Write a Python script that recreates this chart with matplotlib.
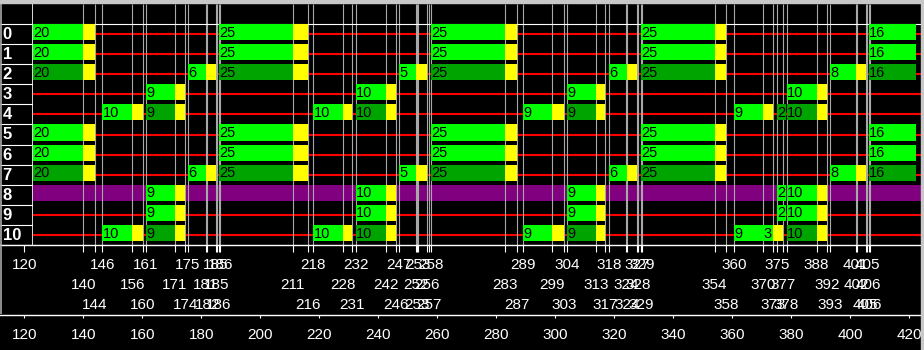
import matplotlib.pyplot as plt
from matplotlib.patches import Rectangle

plt.rcParams['font.family'] = ['Liberation Sans', 'DejaVu Sans']

W, H = 924, 350
PX_PER_UNIT = 2.95
T_AT_PX0 = 111.76   # time value at the left edge of the figure

# schedule: (start, work, setup, dark)
jobs_wide = [(120, 20, 4, False), (186, 25, 5, False), (258, 25, 4, False),
             (329, 25, 4, False), (406.2, 16, 0, False)]
jobs_mixed = [(120, 20, 4, True), (175.5, 6, 3.5, False), (186, 25, 5, True),
              (247, 5.9, 3.5, False), (258, 25, 4, True), (318.3, 6, 3.3, False),
              (329, 25, 4, True), (393.1, 8.7, 3.4, False), (406.2, 16, 0, True)]
jobs_row3 = [(161.2, 9.8, 3.6, False), (232.3, 10.2, 3.5, False),
             (304, 9.7, 3.3, False), (378.4, 10.2, 3.4, False)]
jobs_row4 = [(146.5, 10.1, 3.5, False), (161.2, 9.8, 3.6, True),
             (218, 10, 3.2, False), (232.3, 10.2, 3.5, True),
             (289.2, 9.8, 4.0, False), (304, 9.7, 3.3, True),
             (360.6, 9.9, 3.4, False), (375.3, 2.9, 0, True), (378.4, 10.2, 3.4, True)]
jobs_row8 = [(161.2, 9.8, 3.6, False), (232.3, 10.2, 3.5, False),
             (304, 9.7, 3.3, False), (375.3, 2.9, 0, False), (378.4, 10.2, 3.4, False)]
jobs_row10 = [(146.5, 10.1, 3.5, False), (161.2, 9.8, 3.6, True),
              (218, 10, 3.2, False), (232.3, 10.2, 3.5, True),
              (289.2, 9.8, 4.0, False), (304, 9.7, 3.3, True),
              (360.6, 9.9, 0, False), (370.5, 3.4, 3.4, False), (378.4, 10.2, 3.4, True)]

row_names = [str(i) for i in range(11)]
row_jobs = [jobs_wide, jobs_wide, jobs_mixed, jobs_row3, jobs_row4, jobs_wide,
            jobs_wide, jobs_mixed, jobs_row8, jobs_row8, jobs_row10]
blocked_rows = [8]

# event times (vertical markers), labelled as integers
events = [120, 140, 144, 146.5, 156.6, 160.1, 161.2, 171, 174.6, 175.5, 181.5, 182,
          185, 185.3, 186, 186.4, 211, 216, 218, 228, 231.2, 232.3, 242.5, 246, 247,
          252.9, 253, 253.5, 256.4, 257.2, 258, 283, 287, 289.2, 299, 303, 304, 313.7,
          317, 318.3, 324, 324.3, 327.6, 328.2, 329, 329.4, 354, 358, 360.6, 370.5,
          373.9, 375.3, 377.3, 378.4, 388.6, 392, 393.1, 401.8, 402.2, 405.2, 405.8,
          406.2, 406.6]
axis_ticks = list(range(120, 421, 20))

LIGHT = '#00ff00'
DARK = '#00a400'
SETUP = '#ffff00'
IDLE = '#ff0000'
BLOCKED = '#800080'
GRID = '#a8a8a8'


def px_rect(x0, y0, x1, y1):
    return [x0 / W, 1 - y1 / H, (x1 - x0) / W, (y1 - y0) / H]


def px_to_t(px):
    return T_AT_PX0 + px / PX_PER_UNIT


fig = plt.figure(figsize=(W / 100, H / 100), dpi=100, facecolor='black')

# gantt area
ax = fig.add_axes(px_rect(32.5, 4, 921, 245))
ax.set_facecolor('black')
x_lo, x_hi = px_to_t(32.5), px_to_t(921)
ax.set_xlim(x_lo, x_hi)
ax.set_ylim(len(row_names), -1)
ax.axis('off')

n = len(row_names)
for r in range(n):
    if r in blocked_rows:
        ax.barh(r, x_hi - x_lo, left=x_lo, height=0.8, align='edge',
                color=BLOCKED, zorder=1)
    else:
        ax.axhline(r + 0.5, color=IDLE, lw=1.5, zorder=1)
ax.vlines(events, -1, n, color=GRID, lw=0.8, zorder=2)
ax.axhline(0, color='white', lw=0.8, zorder=2)

for r, jobs in enumerate(row_jobs):
    for start, work, setup, dark in jobs:
        ax.barh(r, work, left=start, height=0.8, align='edge',
                color=DARK if dark else LIGHT, zorder=3)
        if setup > 0:
            ax.barh(r, setup, left=start + work, height=0.8, align='edge',
                    color=SETUP, zorder=3)
        ax.text(max(start, x_lo) + 0.1, r + 0.43, str(int(work)), ha='left',
                va='center', fontsize=10.5, color='black', zorder=4)

# row label column
axl = fig.add_axes(px_rect(0, 4, 32.5, 245))
axl.set_facecolor('black')
axl.set_xlim(0, 1)
axl.set_ylim(n, -1)
axl.axis('off')
axl.hlines(range(0, n + 1), 0, 1, color='white', lw=0.8)
axl.axvline(1, color='white', lw=1.2)
axl.axvline(0.02, color=GRID, lw=1.2)
for r, name in enumerate(row_names):
    axl.text(0.08, r + 0.52, name, ha='left', va='center', fontsize=12,
             fontweight='bold', color='white')

# event time labels
axe = fig.add_axes(px_rect(0, 245, 921, 314))
axe.set_facecolor('black')
axe.set_xlim(px_to_t(0), px_to_t(921))
axe.set_ylim(3.45, 0)
axe.axis('off')
axe.axhline(0, color='white', lw=1, clip_on=False)
axe.vlines(events, 0, 0.35, color='white', lw=0.8)
axe.axvline(px_to_t(1), color=GRID, lw=1.2)
for i, t in enumerate(events):
    axe.text(t, 1 + i % 3, str(int(t)), ha='center', va='center', fontsize=11,
             color='white')

# bottom time axis
axb = fig.add_axes(px_rect(0, 314, 921, 350))
axb.set_facecolor('black')
axb.set_xlim(px_to_t(0), px_to_t(921))
axb.set_ylim(36, 0)
axb.axis('off')
axb.axhline(0.5, color='white', lw=1)
axb.vlines(axis_ticks, 0.5, 4, color='white', lw=0.8)
for t in axis_ticks:
    axb.text(t, 21, str(t), ha='center', va='center', fontsize=11, color='white')

# window frame
fig.patches.append(Rectangle((0, 1 - 3 / H), 1, 3 / H, transform=fig.transFigure,
                             color='#c8c8c8', zorder=0))
fig.patches.append(Rectangle((921 / W, 0), 3 / W, 1, transform=fig.transFigure,
                             color='#c8c8c8', zorder=0))

fig.savefig('out.png', dpi=100, facecolor='black')
